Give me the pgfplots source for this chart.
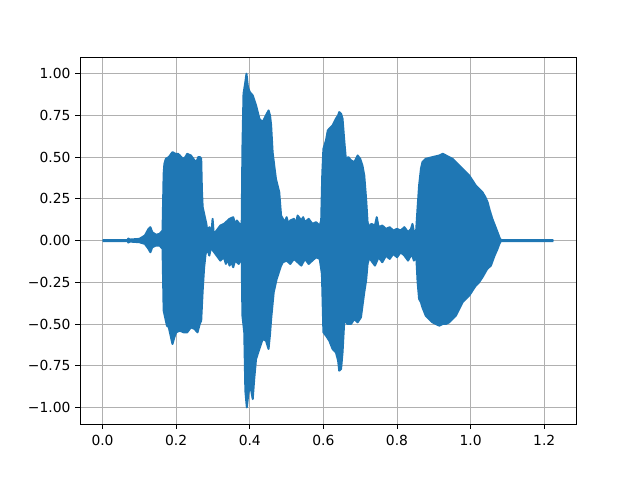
\documentclass[border=0pt]{standalone}
\usepackage{pgfplots}
\pgfplotsset{compat=1.18}
\usepgfplotslibrary{fillbetween}
\usepackage{fontspec}
\setmainfont{DejaVu Sans}
\definecolor{mplblue}{HTML}{1F77B4}
\definecolor{mplgrid}{HTML}{B0B0B0}
\begin{document}
\begin{tikzpicture}
\begin{axis}[
  scale only axis, width=372pt, height=275.25pt,
  xmin=-0.06125, xmax=1.28625, ymin=-1.1, ymax=1.1,
  axis line style={line width=0.6pt},
  tick pos=left, tick align=outside, major tick length=3.65pt,
  tick style={line width=0.6pt, black},
  grid=major, grid style={line width=0.6pt, mplgrid},
  xtick={0,0.2,0.4,0.6,0.8,1.0,1.2},
  xticklabels={0.0,0.2,0.4,0.6,0.8,1.0,1.2},
  ytick={-1,-0.75,-0.5,-0.25,0,0.25,0.5,0.75,1},
  yticklabels={−1.00,−0.75,−0.50,−0.25,0.00,0.25,0.50,0.75,1.00},
  ticklabel style={font=\fontsize{10.4}{12}\selectfont},
  xticklabel style={yshift=-1pt},
  /pgf/number format/assume math mode=true,
]
\addplot[name path=U, mplblue, line width=1.5pt, line join=round] coordinates {
(0,0.003)(0.068,0.003)(0.070,0.012)(0.074,0.006)(0.10,0.01)(0.115,0.03)(0.125,0.07)(0.13,0.08)(0.135,0.05)(0.145,0.035)(0.155,0.04)(0.163,0.06)
(0.166,0.40)(0.168,0.46)(0.172,0.49)(0.18,0.50)(0.19,0.53)(0.198,0.52)(0.205,0.52)(0.21,0.51)(0.218,0.49)(0.225,0.50)(0.23,0.52)(0.24,0.51)(0.25,0.48)(0.255,0.47)(0.26,0.50)(0.265,0.50)(0.268,0.49)
(0.270,0.30)(0.272,0.20)(0.276,0.16)(0.282,0.10)(0.285,0.05)(0.29,0.08)(0.296,0.05)(0.299,0.13)(0.302,0.04)(0.31,0.06)(0.32,0.09)(0.33,0.10)(0.34,0.12)(0.345,0.13)(0.355,0.14)(0.36,0.10)(0.365,0.12)(0.372,0.10)(0.378,0.08)
(0.380,0.55)(0.383,0.88)(0.388,0.95)(0.391,1.00)(0.395,0.92)(0.40,0.89)(0.408,0.87)(0.417,0.81)(0.426,0.73)(0.435,0.71)(0.444,0.75)(0.451,0.78)(0.455,0.75)(0.458,0.69)(0.462,0.53)(0.467,0.44)(0.471,0.37)(0.480,0.29)(0.485,0.15)
(0.49,0.13)(0.495,0.11)(0.50,0.14)(0.505,0.10)(0.51,0.12)(0.52,0.13)(0.525,0.10)(0.53,0.15)(0.54,0.12)(0.545,0.14)(0.55,0.11)(0.56,0.13)(0.57,0.10)(0.58,0.11)(0.59,0.09)(0.594,0.12)
(0.597,0.40)(0.600,0.55)(0.607,0.60)(0.612,0.66)(0.616,0.67)(0.625,0.69)(0.634,0.73)(0.64,0.75)(0.643,0.77)(0.648,0.76)(0.652,0.73)(0.657,0.59)(0.661,0.49)(0.668,0.50)(0.675,0.48)(0.684,0.47)(0.693,0.51)(0.70,0.49)(0.706,0.45)(0.711,0.39)(0.716,0.25)(0.72,0.11)
(0.725,0.08)(0.73,0.10)(0.74,0.09)(0.745,0.14)(0.75,0.08)(0.76,0.09)(0.77,0.07)(0.78,0.08)(0.79,0.06)(0.80,0.07)(0.81,0.06)(0.82,0.08)(0.83,0.05)(0.838,0.07)(0.842,0.10)(0.846,0.05)(0.852,0.06)
(0.856,0.20)(0.860,0.33)(0.865,0.43)(0.869,0.47)(0.878,0.49)(0.896,0.50)(0.915,0.51)(0.924,0.52)(0.933,0.51)(0.942,0.50)(0.951,0.49)(0.960,0.47)(0.969,0.45)(0.978,0.43)(0.987,0.41)(0.996,0.39)(1.005,0.36)(1.014,0.33)(1.023,0.31)(1.032,0.29)(1.040,0.26)(1.046,0.23)(1.052,0.18)(1.059,0.13)(1.066,0.09)(1.073,0.05)(1.078,0.02)(1.082,0.003)(1.225,0.003)
};
\addplot[name path=L, mplblue, line width=1.5pt, line join=round] coordinates {
(0,-0.003)(0.068,-0.003)(0.070,-0.012)(0.074,-0.006)(0.10,-0.01)(0.115,-0.02)(0.125,-0.05)(0.13,-0.07)(0.135,-0.04)(0.145,-0.03)(0.155,-0.03)(0.163,-0.05)
(0.166,-0.42)(0.170,-0.46)(0.175,-0.51)(0.18,-0.52)(0.186,-0.58)(0.19,-0.62)(0.195,-0.58)(0.20,-0.55)(0.21,-0.54)(0.22,-0.55)(0.23,-0.55)(0.24,-0.52)(0.25,-0.53)(0.258,-0.55)(0.264,-0.50)(0.268,-0.48)
(0.272,-0.30)(0.276,-0.16)(0.28,-0.08)(0.285,-0.05)(0.29,-0.09)(0.295,-0.04)(0.30,-0.06)(0.31,-0.09)(0.32,-0.12)(0.33,-0.10)(0.335,-0.14)(0.34,-0.11)(0.345,-0.15)(0.35,-0.13)(0.355,-0.16)(0.36,-0.12)(0.37,-0.14)(0.378,-0.10)
(0.380,-0.45)(0.385,-0.55)(0.388,-0.90)(0.392,-1.00)(0.396,-0.92)(0.40,-0.87)(0.404,-0.90)(0.408,-0.95)(0.412,-0.83)(0.417,-0.71)(0.426,-0.65)(0.435,-0.59)(0.444,-0.60)(0.451,-0.65)(0.455,-0.56)(0.458,-0.47)(0.465,-0.31)(0.473,-0.23)(0.485,-0.15)
(0.49,-0.13)(0.50,-0.12)(0.51,-0.14)(0.52,-0.11)(0.53,-0.13)(0.54,-0.15)(0.55,-0.11)(0.56,-0.14)(0.57,-0.12)(0.58,-0.10)(0.59,-0.11)
(0.596,-0.20)(0.600,-0.55)(0.607,-0.57)(0.616,-0.60)(0.625,-0.65)(0.634,-0.67)(0.640,-0.72)(0.643,-0.78)(0.648,-0.77)(0.652,-0.67)(0.657,-0.47)(0.665,-0.50)(0.675,-0.50)(0.684,-0.47)(0.693,-0.49)(0.702,-0.46)(0.711,-0.31)(0.716,-0.24)(0.72,-0.14)
(0.725,-0.10)(0.73,-0.12)(0.74,-0.15)(0.75,-0.10)(0.76,-0.13)(0.77,-0.09)(0.78,-0.11)(0.79,-0.08)(0.80,-0.10)(0.81,-0.07)(0.82,-0.09)(0.83,-0.12)(0.84,-0.08)(0.846,-0.12)(0.852,-0.08)
(0.856,-0.25)(0.860,-0.35)(0.865,-0.37)(0.869,-0.40)(0.878,-0.45)(0.887,-0.47)(0.896,-0.49)(0.905,-0.50)(0.915,-0.51)(0.924,-0.50)(0.933,-0.50)(0.942,-0.49)(0.951,-0.47)(0.960,-0.45)(0.969,-0.41)(0.978,-0.37)(0.987,-0.35)(0.996,-0.33)(1.005,-0.30)(1.014,-0.27)(1.023,-0.25)(1.032,-0.22)(1.045,-0.17)(1.055,-0.15)(1.065,-0.09)(1.073,-0.05)(1.078,-0.02)(1.082,-0.003)(1.225,-0.003)
};
\addplot[mplblue] fill between[of=U and L];
\end{axis}
\useasboundingbox ([shift={(-60pt,-39.3pt)}]current axis.south west) rectangle ([shift={(48pt,42.8pt)}]current axis.north east);
\end{tikzpicture}
\end{document}
